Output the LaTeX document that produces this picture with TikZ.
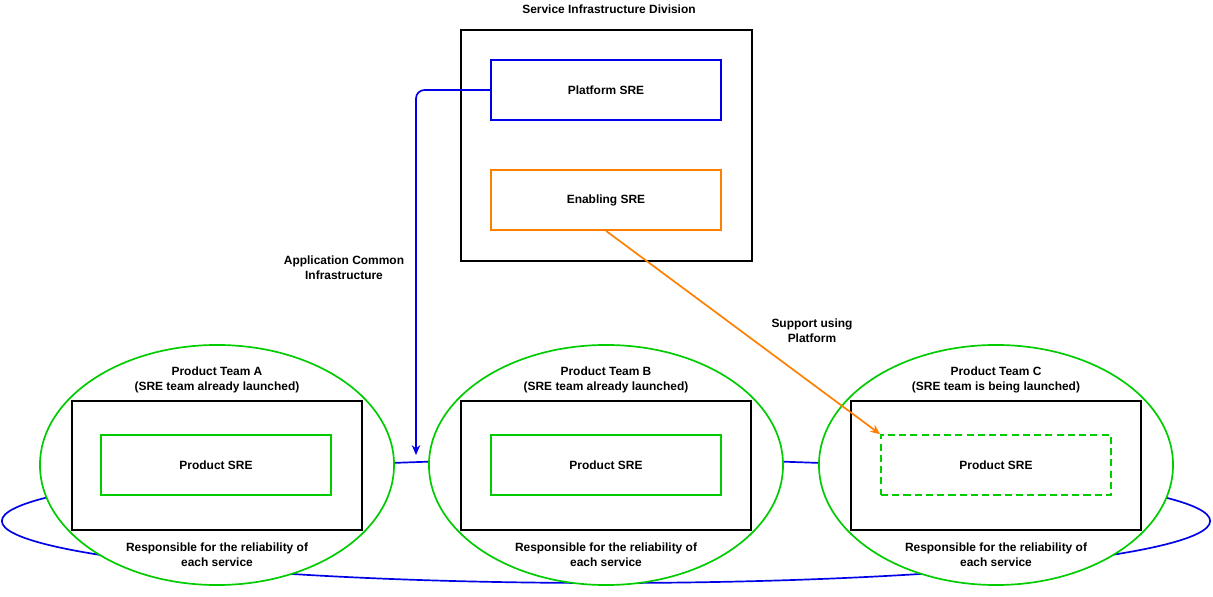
\documentclass[tikz,border=0pt]{standalone}
\usepackage{fontspec}
\setmainfont{Liberation Sans}
\usetikzlibrary{positioning,arrows.meta,shapes}
\definecolor{sreblue}{RGB}{0,0,230}
\definecolor{sregreen}{RGB}{0,204,0}
\definecolor{sreorange}{RGB}{255,128,0}

\begin{document}
\begin{tikzpicture}[x=0.025cm, y=-0.025cm,
    every node/.style={font=\fontsize{8.5}{10.5}\selectfont\bfseries, align=center},
    box/.style={draw, line width=1.2pt, minimum width=7.25cm, minimum height=3.225cm, inner sep=0},
    sre/.style={draw, line width=1.2pt, minimum width=5.75cm, minimum height=1.5cm, inner sep=0},
    team/.style={draw=sregreen, fill=white, line width=1.2pt, ellipse, minimum width=8.85cm, minimum height=6cm, inner sep=0},
    arrow/.style={-{Stealth[length=7pt,width=6pt]}, line width=1.2pt}
]
    \useasboundingbox (0,0) rectangle (1213,597);

    % division
    \node (title) at (609,9) {Service Infrastructure Division};
    \node[draw, line width=1.2pt, minimum width=7.275cm, minimum height=5.775cm, inner sep=0] (division) at (606.5,145.5) {};
    \node[sre, draw=sreblue] (platform) at (606,90) {Platform SRE};
    \node[sre, draw=sreorange] (enabling) at (606,200) {Enabling SRE};

    % ring of product teams
    \node[draw=sreblue, line width=1.2pt, ellipse, minimum width=30.2cm, minimum height=3.1cm, inner sep=0] (ring) at (606,521) {};
    \foreach \name/\x/\txt in {A/217/SRE team already launched, B/606/SRE team already launched, C/996/SRE team is being launched}{
        \node[team] (team\name) at (\x,465) {};
        \node[box] (unit\name) at (\x,465.5) {};
        \node (label\name) at (\x,380) {Product Team \name\\(\txt)};
        \node (duty\name) at (\x,555) {Responsible for the reliability of\\each service};
    }
    \node[sre, draw=sregreen] (productA) at (216,465) {Product SRE};
    \node[sre, draw=sregreen] (productB) at (606,465) {Product SRE};
    \node[sre, draw=sregreen, dashed, dash pattern=on 5pt off 3pt] (productC) at (996,465) {Product SRE};

    % connectors
    \coordinate (common) at (416,455);
    \draw[arrow, sreblue, rounded corners=6pt] (platform.west) -| (common);
    \node (commonlabel) at (344,268) {Application Common\\Infrastructure};
    \draw[arrow, sreorange] (enabling.south) -- (productC.north west);
    \node (supportlabel) at (812,331) {Support using\\Platform};
\end{tikzpicture}
\end{document}
